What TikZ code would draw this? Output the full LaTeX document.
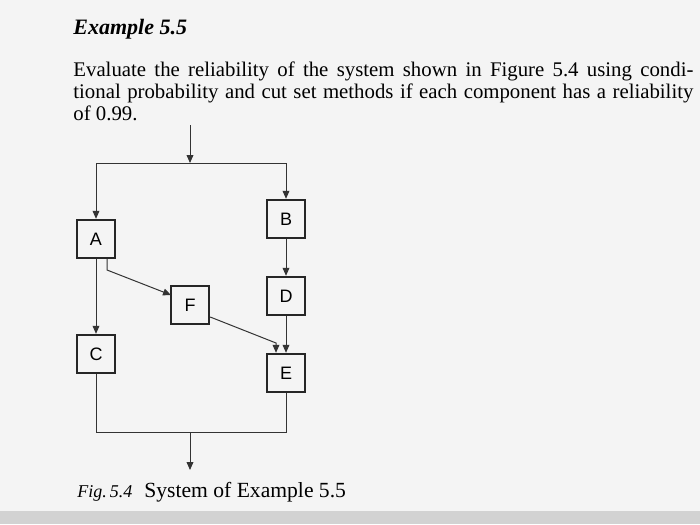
\documentclass[tikz,border=0pt]{standalone}
\usepackage{fontspec}
\setmainfont{Liberation Serif}
\newfontfamily\blockfont{Liberation Sans}
\usetikzlibrary{arrows.meta}
\tikzset{
  blk/.style={draw=black!85, line width=1.2pt, minimum size=19pt, inner sep=0pt, font=\blockfont\small},
  flow/.style={-{Triangle[length=4pt,width=3.4pt]}},
  wire/.style={draw=black!80, line width=0.5pt}
}
\begin{document}
\begin{tikzpicture}[x=0.5pt,y=-0.5pt]
\fill [gray!9] (0,0) rectangle (700,524);
\fill [gray!35] (0,511) rectangle (700,524);
\useasboundingbox (0,0) rectangle (700,524);
% text of the example
\node [anchor=base west, inner sep=0pt, font=\fontsize{11}{14}\selectfont\bfseries\itshape] (title) at (73,35) {Example 5.5};
\node [anchor=base west, inner sep=0pt, text width=310pt, align=justify, font=\fontsize{10.4}{11}\selectfont] (task) at (73,76)
  {Evaluate the reliability of the system shown in Figure 5.4 using condi-\linebreak tional probability and cut set methods if each component has a reliability\linebreak of 0.99.};
% blocks
\node [blk] (A) at (96,239) {A};
\node [blk] (B) at (286,219) {B};
\node [blk] (D) at (286,296) {D};
\node [blk] (C) at (96,354) {C};
\node [blk] (F) at (190,305) {F};
\node [blk] (E) at (286,373) {E};
\coordinate (in) at (190,125); \coordinate (split) at (190,163);
\coordinate (af) at (107,270); \coordinate (fin) at (171,295);
\coordinate (fe) at (276,343);
\coordinate (join) at (190,432); \coordinate (out) at (190,470);
% connections
\draw [wire,flow] (in) -- (split);
\draw [wire,flow] (split) -| (A);
\draw [wire,flow] (split) -| (B);
\draw [wire,flow] (B) -- (D);
\draw [wire,flow] (D) -- (E);
\draw [wire,flow] (A) -- (C);
\draw [wire,flow] (A.south -| af) -- (af) -- (fin);
\draw [wire,flow] ([yshift=-6pt]F.east) -- (fe) -- (fe |- E.north);
\draw [wire] (C) |- (join); \draw [wire] (E) |- (join);
\draw [wire,flow] (join) -- (out);
% caption
\node [anchor=base west, inner sep=0pt, font=\fontsize{10.8}{12}\selectfont] (caption) at (77,497) {{\fontsize{9}{11}\selectfont\itshape Fig.\kern1.5pt 5.4}\hspace{6pt}System of Example 5.5};
\end{tikzpicture}
\end{document}
